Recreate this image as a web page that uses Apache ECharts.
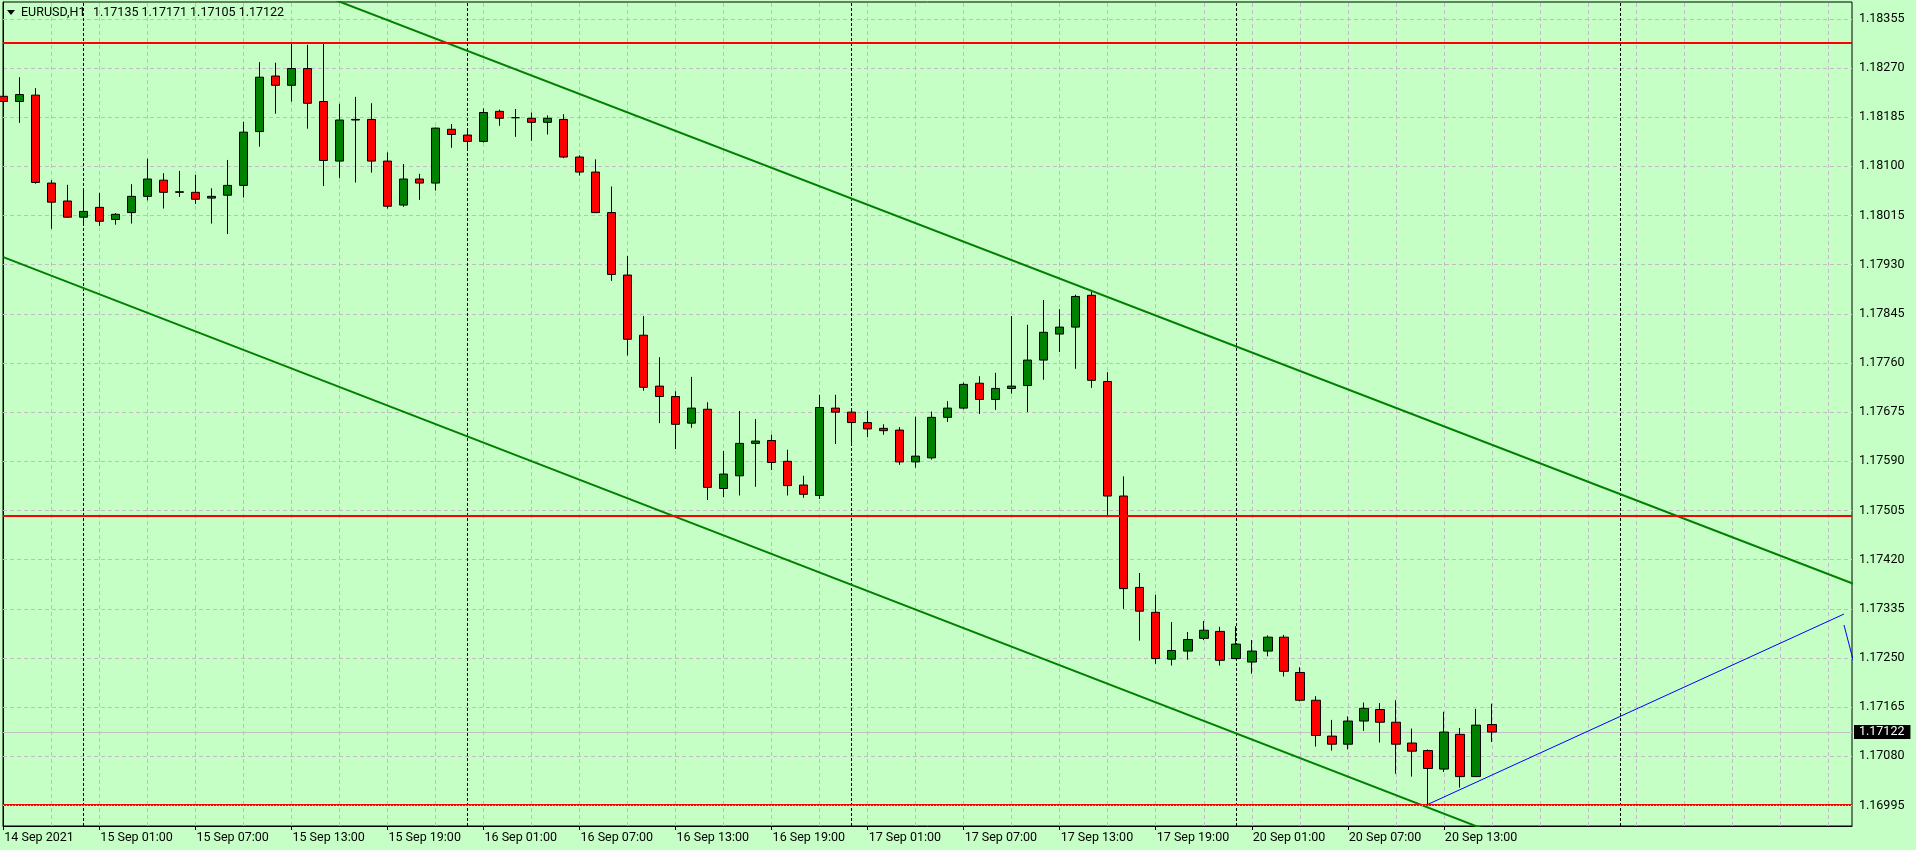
<!DOCTYPE html>
<html>
<head>
<meta charset="utf-8">
<script src="https://cdn.jsdelivr.net/npm/echarts@6.0.0/dist/echarts.min.js"></script>
<style>
html,body{margin:0;padding:0;background:#c6ffc6;}
#chart{width:1916px;height:850px;}
</style>
</head>
<body>
<div id="chart"></div>
<script>
// ---- data (EURUSD H1, bar 0 = 14 Sep 2021 19:00) ----
const symbolTitle = 'EURUSD,H1';
const ohlcTitle = '1.17135 1.17171 1.17105 1.17122';

const opens = [1.18221,1.18212,1.18223,1.18071,1.18040,1.18012,1.18029,1.18008,1.18020,1.18048,
1.18076,1.18056,1.18055,1.18045,1.18050,1.18067,1.18160,1.18256,1.18240,1.18269,
1.18212,1.18109,1.18181,1.18181,1.18109,1.18033,1.18078,1.18071,1.18164,1.18154,
1.18143,1.18195,1.18184,1.18183,1.18176,1.18181,1.18116,1.18090,1.18020,1.17912,
1.17808,1.17720,1.17702,1.17656,1.17680,1.17543,1.17565,1.17621,1.17626,1.17590,
1.17549,1.17531,1.17682,1.17675,1.17657,1.17647,1.17644,1.17589,1.17596,1.17666,
1.17682,1.17725,1.17697,1.17716,1.17721,1.17765,1.17810,1.17822,1.17877,1.17728,
1.17530,1.17372,1.17329,1.17248,1.17262,1.17284,1.17296,1.17249,1.17243,1.17262,
1.17286,1.17225,1.17177,1.17115,1.17101,1.17141,1.17161,1.17139,1.17103,1.17090,
1.17058,1.17118,1.17045,1.17135];

const closes = [1.18212,1.18224,1.18072,1.18038,1.18012,1.18022,1.18005,1.18017,1.18048,1.18078,
1.18055,1.18055,1.18043,1.18048,1.18067,1.18159,1.18254,1.18240,1.18269,1.18209,
1.18110,1.18180,1.18180,1.18109,1.18031,1.18078,1.18071,1.18166,1.18155,1.18143,
1.18193,1.18183,1.18184,1.18176,1.18183,1.18116,1.18090,1.18020,1.17913,1.17801,
1.17718,1.17702,1.17654,1.17682,1.17545,1.17568,1.17621,1.17625,1.17588,1.17548,
1.17533,1.17683,1.17675,1.17657,1.17646,1.17643,1.17589,1.17599,1.17666,1.17682,
1.17723,1.17697,1.17716,1.17720,1.17765,1.17813,1.17822,1.17875,1.17730,1.17530,
1.17370,1.17331,1.17249,1.17263,1.17282,1.17298,1.17246,1.17274,1.17262,1.17286,
1.17227,1.17177,1.17116,1.17101,1.17141,1.17163,1.17139,1.17101,1.17089,1.17059,
1.17122,1.17045,1.17134,1.17122];

const highs = [1.18271,1.18254,1.18235,1.18076,1.18068,1.18062,1.18054,1.18019,1.18069,1.18113,
1.18088,1.18092,1.18085,1.18062,1.18111,1.18177,1.18280,1.18279,1.18313,1.18310,
1.18313,1.18208,1.18220,1.18209,1.18124,1.18104,1.18087,1.18167,1.18173,1.18165,
1.18200,1.18198,1.18199,1.18193,1.18188,1.18190,1.18119,1.18112,1.18065,1.17945,
1.17841,1.17770,1.17711,1.17736,1.17692,1.17608,1.17677,1.17663,1.17636,1.17610,
1.17565,1.17705,1.17705,1.17677,1.17677,1.17654,1.17649,1.17667,1.17676,1.17694,
1.17726,1.17737,1.17743,1.17841,1.17826,1.17869,1.17853,1.17878,1.17883,1.17744,
1.17564,1.17397,1.17359,1.17312,1.17295,1.17314,1.17304,1.17305,1.17281,1.17289,
1.17290,1.17234,1.17184,1.17143,1.17149,1.17173,1.17172,1.17177,1.17128,1.17092,
1.17157,1.17129,1.17162,1.17171];

const lows = [1.18201,1.18175,1.18070,1.17992,1.18011,1.17997,1.17997,1.17999,1.18001,1.18041,
1.18027,1.18047,1.18035,1.18001,1.17983,1.18046,1.18134,1.18191,1.18212,1.18165,
1.18066,1.18080,1.18072,1.18089,1.18027,1.18030,1.18042,1.18058,1.18132,1.18129,
1.18141,1.18170,1.18151,1.18144,1.18155,1.18114,1.18084,1.18019,1.17902,1.17773,
1.17712,1.17656,1.17611,1.17648,1.17523,1.17528,1.17531,1.17546,1.17575,1.17531,
1.17527,1.17525,1.17620,1.17622,1.17632,1.17636,1.17584,1.17579,1.17593,1.17658,
1.17680,1.17672,1.17679,1.17707,1.17675,1.17731,1.17779,1.17750,1.17717,1.17496,
1.17335,1.17280,1.17240,1.17237,1.17247,1.17281,1.17237,1.17248,1.17223,1.17253,
1.17218,1.17175,1.17097,1.17090,1.17092,1.17124,1.17104,1.17050,1.17045,1.16997,
1.17053,1.17026,1.17045,1.17105];

// time-axis tick labels (bar index -> label)
const timeTickBars = [0,6,12,18,24,30,36,42,48,54,60,66,72,78,84,90];
const timeTickLabels = ['14 Sep 2021','15 Sep 01:00','15 Sep 07:00','15 Sep 13:00','15 Sep 19:00',
'16 Sep 01:00','16 Sep 07:00','16 Sep 13:00','16 Sep 19:00','17 Sep 01:00','17 Sep 07:00',
'17 Sep 13:00','17 Sep 19:00','20 Sep 01:00','20 Sep 07:00','20 Sep 13:00'];
// day separators (first bar of each day)
const daySeparatorBars = [5,29,53,77,101];
// price axis tick labels
const priceTicks = [1.16995,1.17080,1.17165,1.17250,1.17335,1.17420,1.17505,1.17590,1.17675,
1.17760,1.17845,1.17930,1.18015,1.18100,1.18185,1.18270,1.18355];
// horizontal levels
const redLevels = [1.18313,1.17496,1.16996];
const bidPrice = 1.17122;
// trend lines [barIndex, price]
const channelUpper = [[0,1.18608],[116,1.17374]];
const channelLower = [[0,1.17943],[116,1.16703]];
const blueLine = [[89,1.16997],[115,1.17326]];
const blueLine2 = [[115,1.17307],[115.7,1.17233]];

// ---- chart ----
const FONT = 'Roboto';
const FS = 12.5;
const candleData = opens.map((o,i)=>[i,o,closes[i],lows[i],highs[i]]);
const gridVBars = [];
for (let b = 3; b <= 114; b += 3) gridVBars.push(b);

const chart = echarts.init(document.getElementById('chart'), null, {renderer:'canvas'});
const option = {
  animation:false,
  backgroundColor:'#c6ffc6',
  grid:{left:3,right:64,top:2,bottom:24,show:true,borderColor:'#000',borderWidth:1,backgroundColor:'transparent'},
  graphic:[
    {type:'polygon',shape:{points:[[7,10],[15,10],[11,15]]},style:{fill:'#000'},z:100},
    {type:'text',left:21,top:6,style:{text:symbolTitle,font:FS+'px '+FONT,fill:'#000'},z:100},
    {type:'text',left:93,top:6,style:{text:ohlcTitle,font:FS+'px '+FONT,fill:'#000'},z:100}
  ],
  xAxis:{
    type:'value',min:-0.02,max:115.5,
    axisLine:{show:true,lineStyle:{color:'#000',width:1}},
    axisTick:{show:true,customValues:timeTickBars,length:4,lineStyle:{color:'#000'}},
    axisLabel:{customValues:timeTickBars,align:'left',margin:5,padding:[0,0,0,1],
      color:'#000',fontFamily:FONT,fontSize:FS,lineHeight:13,
      formatter:(v)=>{const k=timeTickBars.indexOf(Math.round(v));return k>=0?timeTickLabels[k]:'';}},
    splitLine:{show:false}
  },
  yAxis:[{
    type:'value',position:'right',min:1.169596,max:1.18384,
    axisLine:{show:true,lineStyle:{color:'#000',width:1}},
    axisTick:{show:true,customValues:priceTicks,length:3,lineStyle:{color:'#000'}},
    axisLabel:{customValues:priceTicks,margin:7,color:'#000',fontFamily:FONT,fontSize:FS,
      formatter:(v)=>v.toFixed(5)},
    splitLine:{show:false}
  },{
    type:'value',position:'right',min:1.169596,max:1.18384,
    axisLine:{show:false},axisTick:{show:false},splitLine:{show:false},
    axisLabel:{customValues:[bidPrice],margin:2,color:'#fff',backgroundColor:'#000',
      padding:[1,6,0,5],lineHeight:13,fontFamily:FONT,fontSize:FS,
      formatter:(v)=>v.toFixed(5)}
  }],
  series:[
    { // grid lines
      type:'line',data:[],silent:true,symbol:'none',z:1,
      markLine:{silent:true,symbol:'none',z:1,precision:6,animation:false,label:{show:false},
        lineStyle:{color:'#c2bcc4',width:1,type:[4,3]},
        data:priceTicks.map(v=>({yAxis:v})).concat(gridVBars.map(b=>({xAxis:b})))}
    },
    { // day separators + bid line
      type:'line',data:[],silent:true,symbol:'none',z:2,
      markLine:{silent:true,symbol:'none',z:2,precision:6,animation:false,label:{show:false},
        data:daySeparatorBars.map(b=>({xAxis:b,lineStyle:{color:'#000',width:1,type:[3,2]}}))
          .concat([{yAxis:bidPrice,lineStyle:{color:'#c0c0c0',width:1,type:'solid'}}])}
    },
    {
      type:'candlestick',data:candleData,barWidth:9,z:3,silent:true,
      itemStyle:{color:'#008000',color0:'#ff0000',borderColor:'#000',borderColor0:'#000',borderWidth:1}
    },
    {type:'line',data:channelUpper,symbol:'none',silent:true,z:4,lineStyle:{color:'#008000',width:2}},
    {type:'line',data:channelLower,symbol:'none',silent:true,z:4,lineStyle:{color:'#008000',width:2}},
    {type:'line',data:blueLine,symbol:'none',silent:true,z:4,lineStyle:{color:'#0000ff',width:1}},
    {type:'line',data:blueLine2,symbol:'none',silent:true,z:4,lineStyle:{color:'#0000ff',width:1}},
    { // red horizontal levels
      type:'line',data:[],silent:true,symbol:'none',z:5,
      markLine:{silent:true,symbol:'none',z:5,precision:6,animation:false,label:{show:false},
        data:redLevels.map(v=>({yAxis:v,lineStyle:{color:'#ff0000',width:2,type:'solid'}}))
          .concat([{yAxis:redLevels[2],lineStyle:{color:'#ffffff',width:1,type:[1,2],opacity:0.7}}])}
    }
  ]
};
chart.setOption(option);
</script>
</body>
</html>
